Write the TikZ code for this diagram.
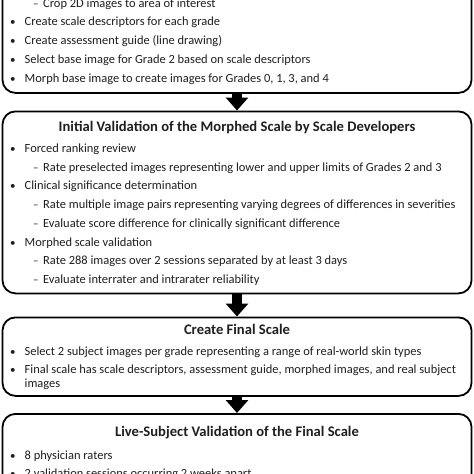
\documentclass[tikz,border=0pt]{standalone}
\usepackage{fontspec}
\setmainfont{Carlito}
\usetikzlibrary{arrows.meta}
\begin{document}
\begin{tikzpicture}[x=1pt,y=-1pt,
  box/.style={draw=black,line width=1.8pt,rounded corners=13pt,minimum width=469pt,inner sep=0pt,anchor=north,fill=white},
  txt/.style={anchor=base west,inner sep=0pt,font=\fontsize{12.45}{14}\selectfont,text=black!88},
  ttl/.style={anchor=base,inner sep=0pt,font=\fontsize{14.6}{16}\selectfont\bfseries,text=black!88},
  bul/.style={anchor=base west,inner sep=0pt,font=\fontsize{11}{14}\selectfont,text=black!88},
  flow/.style={line width=10pt,-{Triangle[width=22pt,length=13pt]}}]
\useasboundingbox (0,0) rectangle (474,474);
\clip (0,0) rectangle (474,474);
\node[box,minimum height=122pt] (b1) at (237,-30) {};
\node[box,minimum height=182pt] (b2) at (237,110.5) {};
\node[box,minimum height=78.5pt] (b3) at (237,316.5) {};
\node[box,minimum height=110pt] (b4) at (237,413) {};
\draw[flow] (b1.south) -- (b2.north);
\draw[flow] (b2.south) -- (b3.north);
\draw[flow] (b3.south) -- (b4.north);
% box 1
\node[bul] (d1) at (33,7) {–};
\node[txt] (t1) at (43,7) {Crop 2D images to area of interest};
\node[bul] (p2) at (10,25.5) {•};
\node[txt] (t2) at (24.5,25.5) {Create scale descriptors for each grade};
\node[bul] (p3) at (10,44.5) {•};
\node[txt] (t3) at (24.5,44.5) {Create assessment guide (line drawing)};
\node[bul] (p4) at (10,63.5) {•};
\node[txt] (t4) at (24.5,63.5) {Select base image for Grade 2 based on scale descriptors};
\node[bul] (p5) at (10,82.5) {•};
\node[txt] (t5) at (24.5,82.5) {Morph base image to create images for Grades 0, 1, 3, and 4};
% box 2
\node[ttl] (h2) at (237,131) {Initial Validation of the Morphed Scale by Scale Developers};
\node[bul] (q1) at (10,152) {•};
\node[txt] (u1) at (24.5,152) {Forced ranking review};
\node[bul] (e1) at (33,171) {–};
\node[txt] (v1) at (43,171) {Rate preselected images representing lower and upper limits of Grades 2 and 3};
\node[bul] (q2) at (10,189.5) {•};
\node[txt] (u2) at (24.5,189.5) {Clinical significance determination};
\node[bul] (e2) at (33,208) {–};
\node[txt] (v2) at (43,208) {Rate multiple image pairs representing varying degrees of differences in severities};
\node[bul] (e3) at (33,227) {–};
\node[txt] (v3) at (43,227) {Evaluate score difference for clinically significant difference};
\node[bul] (q3) at (10,246) {•};
\node[txt] (u3) at (24.5,246) {Morphed scale validation};
\node[bul] (e4) at (33,264.5) {–};
\node[txt] (v4) at (43,264.5) {Rate 288 images over 2 sessions separated by at least 3 days};
\node[bul] (e5) at (33,283) {–};
\node[txt] (v5) at (43,283) {Evaluate interrater and intrarater reliability};
% box 3
\node[ttl] (h3) at (237,334) {Create Final Scale};
\node[bul] (r1) at (10,355) {•};
\node[txt] (w1) at (24.5,355) {Select 2 subject images per grade representing a range of real-world skin types};
\node[bul] (r2) at (10,373.5) {•};
\node[txt] (w2) at (24.5,373.5) {Final scale has scale descriptors, assessment guide, morphed images, and real subject};
\node[txt] (w3) at (24.5,387.5) {images};
% box 4
\node[ttl] (h4) at (237,436) {Live-Subject Validation of the Final Scale};
\node[bul] (s1) at (10,459) {•};
\node[txt] (x1) at (24.5,459) {8 physician raters};
\node[bul] (s2) at (10,477.5) {•};
\node[txt] (x2) at (24.5,477.5) {2 validation sessions occurring 2 weeks apart};
\end{tikzpicture}
\end{document}
